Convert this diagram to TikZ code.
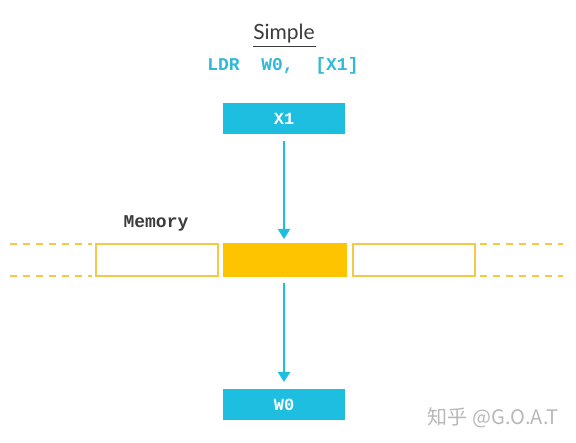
\documentclass[tikz,border=0pt]{standalone}
\usepackage{fontspec}
\setmainfont{Lato}
\setmonofont{Liberation Mono}
\newfontfamily\cjk{Noto Sans CJK SC}
\usetikzlibrary{arrows.meta}
\definecolor{cyanbox}{RGB}{30,190,224}
\definecolor{cyantext}{RGB}{50,185,215}
\definecolor{memfill}{RGB}{255,196,0}
\definecolor{memline}{RGB}{245,200,70}
\definecolor{darktext}{RGB}{60,60,60}
\begin{document}
\begin{tikzpicture}[x=1pt,y=-1pt,
  regbox/.style={fill=cyanbox,draw=none,minimum width=122pt,minimum height=31pt,inner sep=0pt,text=white,font=\ttfamily\bfseries\fontsize{17}{19}\selectfont},
  cell/.style={draw=memline,line width=2pt,minimum width=122pt,minimum height=32pt,inner sep=0pt},
  fullcell/.style={fill=memfill,draw=none,minimum width=124pt,minimum height=34pt,inner sep=0pt},
  flow/.style={draw=cyanbox,line width=2pt,-{Triangle[length=10pt,width=12pt]}},
  dashline/.style={draw=memline,line width=2pt,dash pattern=on 7pt off 6pt}
]
\useasboundingbox (0,0) rectangle (576,443);
\node[font=\fontsize{21}{24}\selectfont,text=darktext] (title) at (284,34) {Simple};
\draw[darktext,line width=0.9pt] (253,46.5) -- (316,46.5);
\node[font=\ttfamily\bfseries\fontsize{18}{20}\selectfont,text=cyantext] (instr) at (283,66) {LDR\ \ W0,\ \ [X1]};
\node[regbox] (x1) at (284,118.5) {X1};
\node[regbox] (w0) at (284,405) {W0};
\node[font=\ttfamily\bfseries\fontsize{18}{20}\selectfont,text=darktext] (memlabel) at (156,223) {Memory};
\node[cell] (left) at (156.5,260.5) {};
\node[fullcell] (mid) at (285,260.5) {};
\node[cell] (right) at (413.5,260.5) {};
\coordinate (ld1) at (10,244.5); \coordinate (ld2) at (10,276.5);
\coordinate (ld1e) at (92,244.5); \coordinate (ld2e) at (92,276.5);
\coordinate (rd1) at (563,244.5); \coordinate (rd2) at (563,276.5);
\coordinate (rd1s) at (480,244.5); \coordinate (rd2s) at (480,276.5);
\draw[dashline] (ld1) -- (ld1e);
\draw[dashline] (ld2) -- (ld2e);
\draw[dashline] (rd1s) -- (rd1);
\draw[dashline] (rd2s) -- (rd2);
\coordinate (a1s) at (284,141); \coordinate (a1e) at (284,239);
\coordinate (a2s) at (284,283); \coordinate (a2e) at (284,382);
\draw[flow] (a1s) -- (a1e);
\draw[flow] (a2s) -- (a2e);
\node[font=\cjk\fontsize{20}{22}\selectfont,text=black!28,anchor=east] (wm) at (562,418) {知乎 @G.O.A.T};
\end{tikzpicture}
\end{document}
